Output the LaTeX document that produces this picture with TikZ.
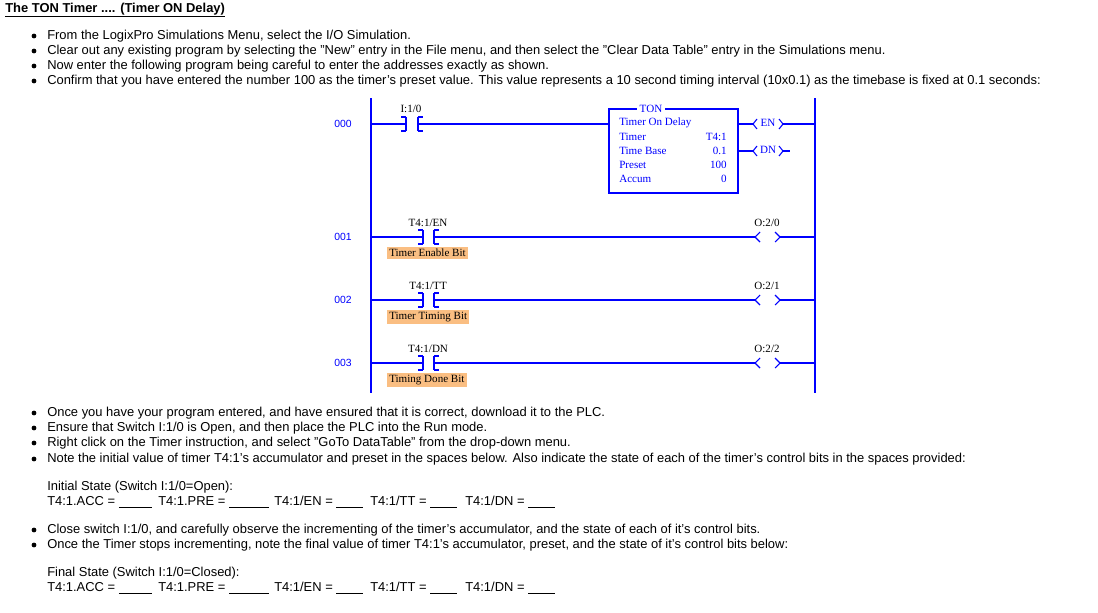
\documentclass[tikz,border=0pt]{standalone}
\usepackage{fontspec}
\setmainfont{Liberation Sans}
\newfontfamily\lad{Liberation Serif}
\definecolor{lb}{RGB}{0,0,255}
\definecolor{org}{RGB}{250,190,130}
\newcommand\blank[1]{\rule[-1.8pt]{#1}{0.6pt}}
\begin{document}
\begin{tikzpicture}[x=0.75pt,y=-0.75pt,
  txt/.style={anchor=west,inner sep=0pt,font=\fontsize{9.7}{10}\selectfont},
  bul/.style={circle,fill=black,inner sep=0pt,minimum size=3.6pt},
  lt/.style={inner sep=0pt,font=\lad\fontsize{8.3}{9}\selectfont},
  num/.style={inner sep=0pt,font=\fontsize{7.8}{8}\selectfont,text=lb},
  tag/.style={fill=org,inner sep=1.5pt,font=\lad\fontsize{8.3}{9}\selectfont},
  wire/.style={draw=lb,line width=0.8pt}]
\useasboundingbox (0,0) rectangle (1098,612);
\fill[white] (0,0) rectangle (1098,612);
\node[txt,font=\bfseries\fontsize{9.7}{10}\selectfont] (title) at (5,10) {\underline{The TON Timer .... (Timer ON Delay)}};
% top bullets
\foreach \y/\t [count=\i] in {36/{From the LogixPro Simulations Menu, select the I/O Simulation.},
 51/{Clear out any existing program by selecting the "New" entry in the File menu, and then select the "Clear Data Table" entry in the Simulations menu.},
 66/{Now enter the following program being careful to enter the addresses exactly as shown.},
 81/{Confirm that you have entered the number 100 as the timer's preset value. This value represents a 10 second timing interval (10x0.1) as the timebase is fixed at 0.1 seconds:},
 413/{Once you have your program entered, and have ensured that it is correct, download it to the PLC.},
 428/{Ensure that Switch I:1/0 is Open, and then place the PLC into the Run mode.},
 443/{Right click on the Timer instruction, and select "GoTo DataTable" from the drop-down menu.},
 459/{Note the initial value of timer T4:1's accumulator and preset in the spaces below. Also indicate the state of each of the timer's control bits in the spaces provided:},
 530/{Close switch I:1/0, and carefully observe the incrementing of the timer's accumulator, and the state of each of it's control bits.},
 545/{Once the Timer stops incrementing, note the final value of timer T4:1's accumulator, preset, and the state of it's control bits below:}}
 {\node[bul] (b\i) at (34,\y) {}; \node[txt] (t\i) at (47,\y) {\t};}
% state lines
\node[txt] (is) at (47,487) {Initial State (Switch I:1/0=Open):};
\node[txt] (fs) at (47,573) {Final State (Switch I:1/0=Closed):};
\foreach \y/\n in {502/i,588/f}{
 \node[txt] (\n a) at (47,\y) {T4:1.ACC = \blank{25pt}};
 \node[txt] (\n b) at (158,\y) {T4:1.PRE = \blank{30pt}};
 \node[txt] (\n c) at (274,\y) {T4:1/EN = \blank{20pt}};
 \node[txt] (\n d) at (370,\y) {T4:1/TT = \blank{20pt}};
 \node[txt] (\n e) at (465,\y) {T4:1/DN = \blank{20pt}};
}
% ladder rails
\coordinate (lt) at (371,98); \coordinate (lbm) at (371,393);
\coordinate (rt) at (815,98); \coordinate (rbm) at (815,393);
\draw[wire] (lt) -- (lbm); \draw[wire] (rt) -- (rbm);
% rung numbers
\node[num] (n0) at (343,124) {000};
\node[num] (n1) at (343,237) {001};
\node[num] (n2) at (343,300) {002};
\node[num] (n3) at (343,363) {003};
% rung 0
\draw[wire] (371,124) -- (406,124) (406,117) -- (406,131) (401,117) -- (406,117) (401,131) -- (406,131)
  (418,117) -- (418,131) (418,117) -- (423,117) (418,131) -- (423,131) (418,124) -- (609,124);
\node[lt] (c0) at (411,109) {I:1/0};
\draw[wire] (609,109) rectangle (738,193);
\node[lt,fill=white,inner xsep=2pt] (ton) at (651,109) {\textcolor{lb}{TON}};
\foreach \y/\a/\b in {123/{Timer On Delay}/{},137/Timer/T4:1,151/{Time Base}/0.1,165/Preset/100,179/Accum/0}{
  \node[lt,anchor=west,text=lb] at (619,\y) {\a};
  \node[lt,anchor=east,text=lb] at (727,\y) {\b};}
% EN / DN coils
\node[lt,text=lb] (en) at (768,123) {EN};
\node[lt,text=lb] (dn) at (768,150) {DN};
\foreach \c/\y in {en/124,dn/151}{
 \draw[wire] (753,\y) -- (757,\y-5) (753,\y) -- (757,\y+5);
 \draw[wire] (783,\y) -- (779,\y-5) (783,\y) -- (779,\y+5);}
\draw[wire] (738,124) -- (753,124) (783,124) -- (815,124);
\draw[wire] (738,151) -- (753,151) (783,151) -- (790,151);
% rungs 1-3
\foreach \y/\lab/\tg/\o/\i in {237/{T4:1/EN}/{Timer Enable Bit}/{O:2/0}/1,300/{T4:1/TT}/{Timer Timing Bit}/{O:2/1}/2,363/{T4:1/DN}/{Timing Done Bit}/{O:2/2}/3}{
 \draw[wire] (371,\y) -- (423,\y) (423,\y-7) -- (423,\y+7) (418,\y-7) -- (423,\y-7) (418,\y+7) -- (423,\y+7)
   (434,\y-7) -- (434,\y+7) (434,\y-7) -- (439,\y-7) (434,\y+7) -- (439,\y+7) (434,\y) -- (755,\y);
 \node[lt] (cl\i) at (428,\y-14) {\lab};
 \node[tag,anchor=north west] (tg\i) at (387,\y+10) {\tg};
 \node[lt] (o\i) at (767,\y-14) {\o};
 \draw[wire] (755,\y) -- (760,\y-5) (755,\y) -- (760,\y+5);
 \draw[wire] (780,\y) -- (775,\y-5) (780,\y) -- (775,\y+5);
 \draw[wire] (780,\y) -- (815,\y);
}
\end{tikzpicture}
\end{document}
